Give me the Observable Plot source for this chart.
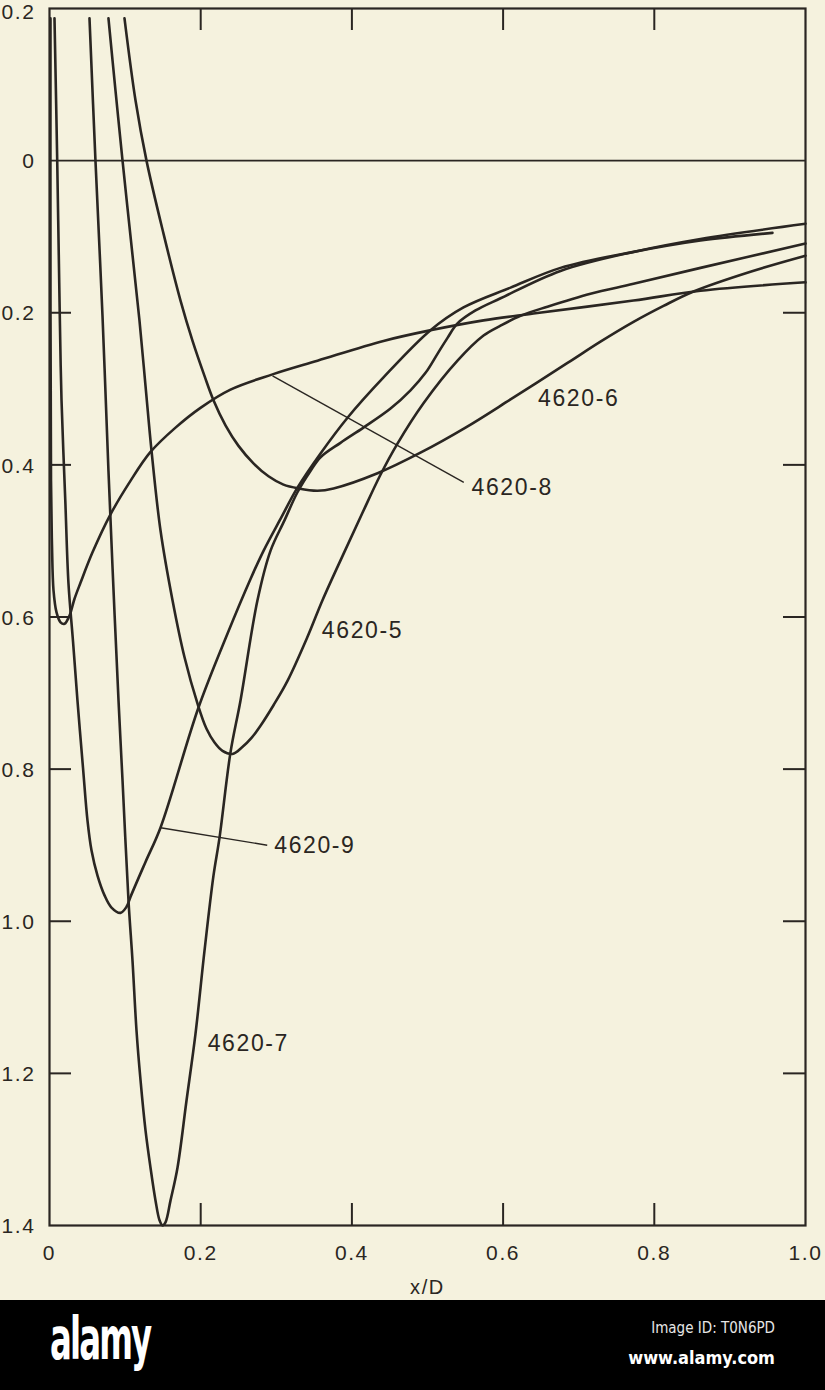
<!DOCTYPE html>
<html>
<head>
<meta charset="utf-8">
<script src="https://cdn.jsdelivr.net/npm/d3@7"></script>
<script src="https://cdn.jsdelivr.net/npm/@observablehq/plot@0.6"></script>
<style>
  html, body { margin: 0; padding: 0; background: #f5f2de; overflow: hidden; }
  #wrap { position: relative; width: 825px; height: 1390px; overflow: hidden; background: #f5f2de; }
  #chart svg { display: block; }
  #chart svg text { letter-spacing: 1.6px; }
  #band { position: absolute; left: 0; top: 1300px; width: 825px; height: 90px; background: #000; z-index: 2; }
  #logo { position: absolute; left: 50px; top: 10px; color: #fff; font-family: "DejaVu Sans Condensed", "DejaVu Sans", sans-serif; font-stretch: condensed; font-weight: bold; font-size: 58px; line-height: 1; letter-spacing: -3px; transform-origin: left top; transform: scaleX(0.62); }
  #imgid { position: absolute; right: 50px; top: 21px; color: #e6e6e6; font-family: "DejaVu Sans Condensed", "DejaVu Sans", sans-serif; font-stretch: condensed; font-size: 15px; line-height: 1; }
  #site { position: absolute; right: 50px; top: 49px; color: #fff; font-family: "DejaVu Sans Condensed", "DejaVu Sans", sans-serif; font-stretch: condensed; font-weight: bold; font-size: 18px; line-height: 1; }
</style>
</head>
<body>
<div id="wrap">
  <div id="chart"></div>
  <div id="band">
    <div id="logo">alamy</div>
    <div id="imgid">Image ID: T0N6PD</div>
    <div id="site">www.alamy.com</div>
  </div>
</div>
<script>
// ---- Data (x = x/D, d = value on the downward axis; values above the 0 line are negative d) ----
const seriesNames = ["4620-5", "4620-6", "4620-7", "4620-8", "4620-9"];

const x_4620_5 = [0.0780,0.0873,0.0966,0.1085,0.1190,0.1270,0.1349,0.1468,0.1627,0.1786,0.1958,0.2077,0.2183,0.2288,0.2421,0.2540,0.2672,0.2791,0.2963,0.3148,0.3413,0.3611,0.3889,0.4140,0.4378,0.4603,0.4947,0.5397,0.5741,0.5966,0.6230,0.6587,0.7156,0.7725,0.8611,1.0];
const d_4620_5 = [-0.187,-0.092,0,0.112,0.210,0.296,0.381,0.486,0.578,0.653,0.714,0.747,0.765,0.776,0.780,0.772,0.759,0.743,0.716,0.684,0.626,0.578,0.517,0.463,0.413,0.372,0.319,0.263,0.230,0.217,0.204,0.192,0.175,0.162,0.141,0.109];

const x_4620_6 = [0.0992,0.1138,0.1283,0.1508,0.1733,0.1892,0.2050,0.2169,0.2328,0.2500,0.2698,0.2897,0.3095,0.3294,0.3545,0.3757,0.4339,0.4907,0.5503,0.6098,0.6852,0.7288,0.7725,0.8122,0.8519,0.9272,1.0];
const d_4620_6 = [-0.187,-0.079,0,0.096,0.184,0.237,0.283,0.315,0.348,0.375,0.398,0.415,0.426,0.431,0.434,0.431,0.411,0.384,0.351,0.314,0.266,0.238,0.212,0.191,0.172,0.146,0.125];

const x_4620_7 = [0.0529,0.0608,0.0701,0.0780,0.0847,0.0913,0.0966,0.1045,0.1098,0.1151,0.1204,0.1270,0.1336,0.1402,0.1455,0.1495,0.1534,0.1601,0.1693,0.1812,0.1931,0.2050,0.2169,0.2249,0.2394,0.2526,0.2751,0.2923,0.3108,0.3280,0.3452,0.3585,0.3849,0.4153,0.4511,0.4775,0.4974,0.5132,0.5265,0.5397,0.5635,0.5966,0.6759,0.7725,0.8611,1.0];
const d_4620_7 = [-0.187,0,0.204,0.408,0.565,0.710,0.815,0.973,1.052,1.144,1.209,1.275,1.324,1.367,1.393,1.400,1.396,1.367,1.324,1.236,1.148,1.039,0.940,0.890,0.778,0.710,0.578,0.513,0.473,0.436,0.408,0.390,0.371,0.351,0.326,0.302,0.279,0.254,0.233,0.214,0.197,0.181,0.145,0.120,0.103,0.083];

const x_4620_8 = [0.0013,0.0013,0.0020,0.0033,0.0053,0.0093,0.0146,0.0198,0.0265,0.0331,0.0410,0.0569,0.0807,0.1071,0.1336,0.1667,0.1997,0.2394,0.2950,0.3545,0.4418,0.5040,0.5741,0.6402,0.7725,0.8611,1.0];
const d_4620_8 = [-0.187,0.184,0.421,0.506,0.565,0.594,0.607,0.609,0.598,0.576,0.555,0.515,0.465,0.421,0.383,0.351,0.325,0.301,0.281,0.263,0.237,0.223,0.210,0.201,0.184,0.171,0.160];

const x_4620_9 = [0.0066,0.0102,0.0136,0.0159,0.0209,0.0251,0.0311,0.0370,0.0443,0.0503,0.0556,0.0635,0.0728,0.0820,0.0939,0.1019,0.1071,0.1270,0.1468,0.1971,0.2354,0.2659,0.2831,0.3056,0.3280,0.3585,0.3942,0.4418,0.5040,0.5476,0.6098,0.6759,0.7725,0.8611,0.9563];
const d_4620_9 = [-0.187,0,0.204,0.315,0.447,0.556,0.632,0.710,0.798,0.868,0.907,0.940,0.966,0.982,0.989,0.981,0.968,0.922,0.877,0.719,0.622,0.550,0.513,0.471,0.430,0.385,0.338,0.285,0.223,0.193,0.167,0.141,0.120,0.105,0.095];

// curve labels and leader lines
const labelNames = ["4620-6", "4620-8", "4620-5", "4620-9", "4620-7"];
const labelX = [0.700, 0.612, 0.414, 0.351, 0.263];
const labelD = [0.313, 0.430, 0.618, 0.900, 1.161];

const leaderNames = ["4620-8", "4620-9"];
const leaderX1 = [0.295, 0.147];
const leaderD1 = [0.283, 0.877];
const leaderX2 = [0.548, 0.288];
const leaderD2 = [0.423, 0.900];

// axes
const xTicks = [0, 0.2, 0.4, 0.6, 0.8, 1.0];
const yTicks = [-0.2, 0, 0.2, 0.4, 0.6, 0.8, 1.0, 1.2, 1.4];
const xInnerTicks = [0.2, 0.4, 0.6, 0.8];
const yInnerTicks = [0.2, 0.4, 0.6, 0.8, 1.0, 1.2];
const xLabel = "x/D";

// ---- build tables ----
const seriesX = {"4620-5": x_4620_5, "4620-6": x_4620_6, "4620-7": x_4620_7, "4620-8": x_4620_8, "4620-9": x_4620_9};
const seriesD = {"4620-5": d_4620_5, "4620-6": d_4620_6, "4620-7": d_4620_7, "4620-8": d_4620_8, "4620-9": d_4620_9};
const rows = seriesNames.flatMap(s => seriesX[s].map((x, i) => ({series: s, x, d: seriesD[s][i]})));
const labels = labelNames.map((n, i) => ({name: n, x: labelX[i], d: labelD[i]}));
const leaders = leaderNames.map((n, i) => ({name: n, x1: leaderX1[i], y1: leaderD1[i], x2: leaderX2[i], y2: leaderD2[i]}));

const W = 825, H = 1300, mL = 49, mR = 20, mT = 8, mB = 75;
const xDom = [0, 1], yDom = [-0.2, 1.4];
const TICK = 22;
const tx = TICK / (W - mL - mR) * (xDom[1] - xDom[0]);
const ty = TICK / (H - mT - mB) * (yDom[1] - yDom[0]);
const ink = "#2a2622";
const fmt = v => v === 0 ? "0" : Math.abs(v).toFixed(1);

const chart = Plot.plot({
  width: W, height: H,
  marginLeft: mL, marginRight: mR, marginTop: mT, marginBottom: mB,
  style: {background: "transparent", fontFamily: "'Liberation Sans', Arial, sans-serif", color: ink},
  x: {domain: xDom},
  y: {domain: yDom, reverse: true},
  marks: [
    Plot.ruleY([0], {stroke: ink, strokeWidth: 1.8}),
    Plot.line(rows, {x: "x", y: "d", z: "series", curve: "catmull-rom", stroke: ink, strokeWidth: 2.6, strokeLinecap: "round", strokeLinejoin: "round"}),
    Plot.link(leaders, {x1: "x1", y1: "y1", x2: "x2", y2: "y2", stroke: ink, strokeWidth: 1.4}),
    Plot.text(labels, {x: "x", y: "d", text: "name", fontSize: 23, textAnchor: "middle", lineAnchor: "middle", fill: ink}),
    Plot.ruleY(yInnerTicks, {x1: xDom[0], x2: xDom[0] + tx, stroke: ink, strokeWidth: 2}),
    Plot.ruleY(yInnerTicks, {x1: xDom[1] - tx, x2: xDom[1], stroke: ink, strokeWidth: 2}),
    Plot.ruleX(xInnerTicks, {y1: yDom[1], y2: yDom[1] - ty, stroke: ink, strokeWidth: 2}),
    Plot.ruleX(xInnerTicks, {y1: yDom[0], y2: yDom[0] + ty, stroke: ink, strokeWidth: 2}),
    Plot.frame({stroke: ink, strokeWidth: 2.2}),
    Plot.axisY({ticks: yTicks.filter(v => v !== yDom[0]), tickSize: 0, tickPadding: 14, tickFormat: fmt, fontSize: 21, dy: 1, label: null}),
    Plot.axisY({ticks: [yDom[0]], tickSize: 0, tickPadding: 14, tickFormat: fmt, fontSize: 21, dy: 4, label: null}),
    Plot.axisX({ticks: xTicks, tickSize: 0, tickPadding: 20, tickFormat: fmt, fontSize: 21, label: null}),
    Plot.text([xLabel], {frameAnchor: "bottom", dy: 62, fontSize: 20, fill: ink, lineAnchor: "middle"})
  ]
});
document.getElementById("chart").appendChild(chart);
</script>
</body>
</html>
